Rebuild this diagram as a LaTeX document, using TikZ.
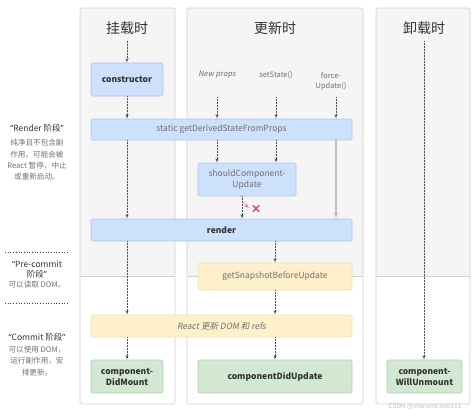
\documentclass[tikz,border=0pt]{standalone}
\usepackage{fontspec}
\setmainfont{Noto Sans CJK SC}[AutoFakeSlant=0.2]
\newfontfamily\quotefont{Noto Sans}
\usetikzlibrary{arrows,shapes.misc}
\definecolor{colfill}{HTML}{F5F5F5}
\definecolor{colline}{HTML}{CFCFCF}
\definecolor{bluefill}{HTML}{CDE0FC}
\definecolor{blueline}{HTML}{A9C5EE}
\definecolor{yellowfill}{HTML}{FDF0CA}
\definecolor{yellowline}{HTML}{F2E0AE}
\definecolor{greenfill}{HTML}{D3E8D3}
\definecolor{greenline}{HTML}{AFCFAF}
\definecolor{textdark}{HTML}{333333}
\definecolor{textgray}{HTML}{707070}
\definecolor{skipred}{HTML}{E8336B}
\tikzset{
    column/.style = {
        draw=colline,
        line width=0.6pt,
        rounded corners=2pt
    },
    coltitle/.style = {
        font=\fontsize{14}{15}\selectfont,
        text=textdark
    },
    box/.style = {
        draw,
        shape=rectangle,
        rounded corners=2pt,
        line width=0.6pt,
        align=center,
        inner sep=0pt,
        text=textdark,
        font=\fontsize{8.5}{11}\selectfont
    },
    renderbox/.style = {
        box,
        draw=blueline,
        fill=bluefill
    },
    precommitbox/.style = {
        box,
        draw=yellowline,
        fill=yellowfill
    },
    commitbox/.style = {
        box,
        draw=greenline,
        fill=greenfill,
        font=\fontsize{8.5}{11}\selectfont\bfseries
    },
    trigger/.style = {
        text=textgray,
        align=center,
        font=\fontsize{7.5}{10}\selectfont
    },
    phaselabel/.style = {
        text=textdark,
        align=center,
        font=\fontsize{8.5}{10}\selectfont
    },
    phasenote/.style = {
        text=textgray,
        align=center,
        font=\fontsize{7.6}{11.3}\selectfont
    },
    flow/.style = {
        draw=black!70,
        densely dotted,
        line width=0.5pt,
        ->
    },
    separator/.style = {
        draw=black!75,
        dotted,
        line width=0.7pt
    },
    >=latex',
}

\begin{document}
\begin{tikzpicture}[x=1pt, y=-1pt]
    \useasboundingbox (0,0) rectangle (474,412);

    % the three columns
    \foreach \l/\r in {80/175, 187/363, 376/470} {
        \fill[colfill, rounded corners=2pt] (\l,8) rectangle (\r,276);
        \draw[colline, line width=0.6pt] (\l,276) -- (\r,276);
        \draw[column] (\l,8) rectangle (\r,404);
    }

    \node[coltitle] (mounttitle) at (127,28) {挂载时};
    \node[coltitle] (updatetitle) at (275,28) {更新时};
    \node[coltitle] (unmounttitle) at (424,28) {卸载时};

    \node[trigger, font=\fontsize{7.5}{10}\selectfont\itshape] (newprops) at (217,75) {New props};
    \node[trigger] (setstate) at (276,75) {setState()};
    \node[trigger] (force) at (331,81) {force-\\Update()};
    \coordinate (triggerrow) at (0,97);

    \node[renderbox, minimum width=72pt, minimum height=33pt, font=\fontsize{8.5}{11}\selectfont\bfseries] (constructor) at (127,79.5) {constructor};
    \node[renderbox, minimum width=261pt, minimum height=21pt, text=textgray] (derived) at (221.5,129.5) {static getDerivedStateFromProps};
    \node[renderbox, minimum width=98pt, minimum height=33pt, text=textgray] (should) at (247,179.5) {shouldComponent-\\Update};
    \node[renderbox, minimum width=261pt, minimum height=22pt, font=\fontsize{8.5}{11}\selectfont\bfseries] (render) at (221.5,230) {render};
    \node[precommitbox, minimum width=154pt, minimum height=27pt, text=textgray] (snapshot) at (275,276.5) {getSnapshotBeforeUpdate};
    \node[precommitbox, minimum width=261pt, minimum height=22pt, text=textgray, font=\fontsize{8.5}{11}\selectfont\itshape] (reactdom) at (221.5,326) {React 更新 DOM 和 refs};
    \node[commitbox, minimum width=72pt, minimum height=33pt] (didmount) at (127,376.5) {component-\\DidMount};
    \node[commitbox, minimum width=154pt, minimum height=33pt] (didupdate) at (275,376.5) {componentDidUpdate};
    \node[commitbox, minimum width=75pt, minimum height=33pt] (willunmount) at (424.5,376.5) {component-\\WillUnmount};

    % mounting
    \path[flow, shorten <=3pt] (mounttitle) -- (constructor);
    \path[flow] (constructor.south) -- (constructor.south |- derived.north);
    \path[flow] (derived.south -| constructor) -- (render.north -| constructor);
    \path[flow] (render.south -| didmount) -- (reactdom.north -| didmount);
    \path[flow] (reactdom.south -| didmount) -- (didmount);

    % updating
    \path[flow] (triggerrow -| newprops) -- (derived.north -| newprops);
    \path[flow] (triggerrow -| setstate) -- (derived.north -| setstate);
    \path[flow] (triggerrow -| 336,0) -- (derived.north -| 336,0);
    \path[flow] (derived.south -| newprops) -- (should.north -| newprops);
    \path[flow] (derived.south -| setstate) -- (should.north -| setstate);
    \path[draw=black!25, line width=1.1pt, ->] (derived.south -| 336,0) -- (render.north -| 336,0);
    \path[flow] (should.south -| 242,0) -- (render.north -| 242,0);
    \coordinate (skipend) at (249,208);
    \path[draw=skipred!80, densely dotted, line width=0.6pt, ->] (should.south -| 241,0) .. controls (243,203) .. (skipend);
    \node[cross out, draw=skipred, line width=1.3pt, minimum size=5pt, inner sep=0pt] (skipmark) at (256,208.5) {};
    \path[flow] (render.south -| snapshot) -- (snapshot);
    \path[flow] (snapshot) -- (reactdom.north -| snapshot);
    \path[flow] (reactdom.south -| didupdate) -- (didupdate);

    % unmounting
    \path[flow, shorten <=3pt] (unmounttitle) -- (unmounttitle |- willunmount.north);

    % phases
    \node[phaselabel] (renderlabel) at (37,128) {{\quotefont “}Render 阶段{\quotefont ”}};
    \node[phasenote] (rendernote) at (37,160) {纯净且不包含副\\作用。可能会被\\React 暂停，中止\\或重新启动。};
    \draw[separator] (5,252) -- (68,252);
    \node[phaselabel] (precommitlabel) at (37,270) {{\quotefont “}Pre-commit\\阶段{\quotefont ”}};
    \node[phasenote] (precommitnote) at (37,285) {可以读取 DOM。};
    \draw[separator] (5,303) -- (68,303);
    \node[phaselabel] (commitlabel) at (37,337) {{\quotefont “}Commit 阶段{\quotefont ”}};
    \node[phasenote] (commitnote) at (37,361) {可以使用 DOM，\\运行副作用，安\\排更新。};

    \node[text=black!25, font=\fontsize{6.5}{8}\selectfont] (mark) at (425,406) {CSDN @iminvincible111};
\end{tikzpicture}
\end{document}
